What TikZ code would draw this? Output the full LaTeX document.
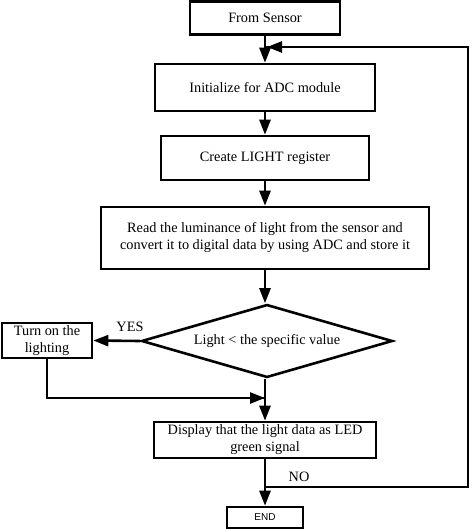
\documentclass[tikz,border=0pt]{standalone}
\usepackage{fontspec}
\setmainfont{Liberation Serif}
\newfontfamily\endfont{Liberation Sans}
\usetikzlibrary{shapes.geometric,arrows.meta}
\begin{document}
\begin{tikzpicture}[x=1pt,y=-1pt,
  every node/.style={font=\fontsize{14.3}{17}\selectfont},
  box/.style={draw,line width=2.6pt,rectangle,inner sep=1pt,align=center},
  flow/.style={line width=2.6pt,-{Triangle[length=15pt,width=11pt]}},
  plain/.style={line width=2.6pt}]
\useasboundingbox (0,0) rectangle (474,529);
\node[box,minimum width=150pt,minimum height=33pt] (sensor) at (265,18) {From Sensor};
\node[box,minimum width=220pt,minimum height=47pt] (init) at (265,87.5) {Initialize for ADC module};
\node[box,minimum width=208pt,minimum height=44pt] (create) at (265,158) {Create LIGHT register};
\node[box,minimum width=328pt,minimum height=62pt] (read) at (265,238) {Read the luminance of light from the sensor and\\convert it to digital data by using ADC and store it};
\node[draw,line width=2.6pt,shape=diamond,inner sep=0pt,shape aspect=3.4,minimum width=251pt,minimum height=73pt] (dec) at (267,341) {Light < the specific value};
\node[box,minimum width=90pt,minimum height=35pt,inner sep=0pt] (turn) at (47,340.5) {Turn on the\\lighting};
\node[box,minimum width=222pt,minimum height=36pt,inner sep=0pt] (disp) at (265,440) {Display that the light data as LED\\green signal};
\node[box,minimum width=76pt,minimum height=21pt,font=\endfont\fontsize{10}{12}\selectfont] (end) at (265,517.5) {END};
\coordinate (join) at (265,398);
\coordinate (loopa) at (265,487);
\coordinate (loopb) at (468,487);
\coordinate (loopc) at (468,47);
\coordinate (loopd) at (265,47);
\draw[flow] (sensor) -- (init);
\draw[flow] (init) -- (create);
\draw[flow] (create) -- (read);
\draw[flow] (read.south) -- (dec.north -| read.south);
\draw[flow] (dec.west) -- (turn.east);
\draw[plain] (turn.south) |- (join);
\draw[flow] (turn.south |- join) -- (join);
\draw[flow] (dec.south -| join) -- (disp.north);
\draw[flow] (disp.south) -- (end.north);
\draw[plain,line join=miter] (loopa) -- (loopb) -- (loopc) -- ([xshift=1pt]loopd);
\draw[flow] (loopc) -- ([xshift=2pt]loopd);
\node at (130,327) {YES};
\node at (299,477) {NO};
\end{tikzpicture}
\end{document}
